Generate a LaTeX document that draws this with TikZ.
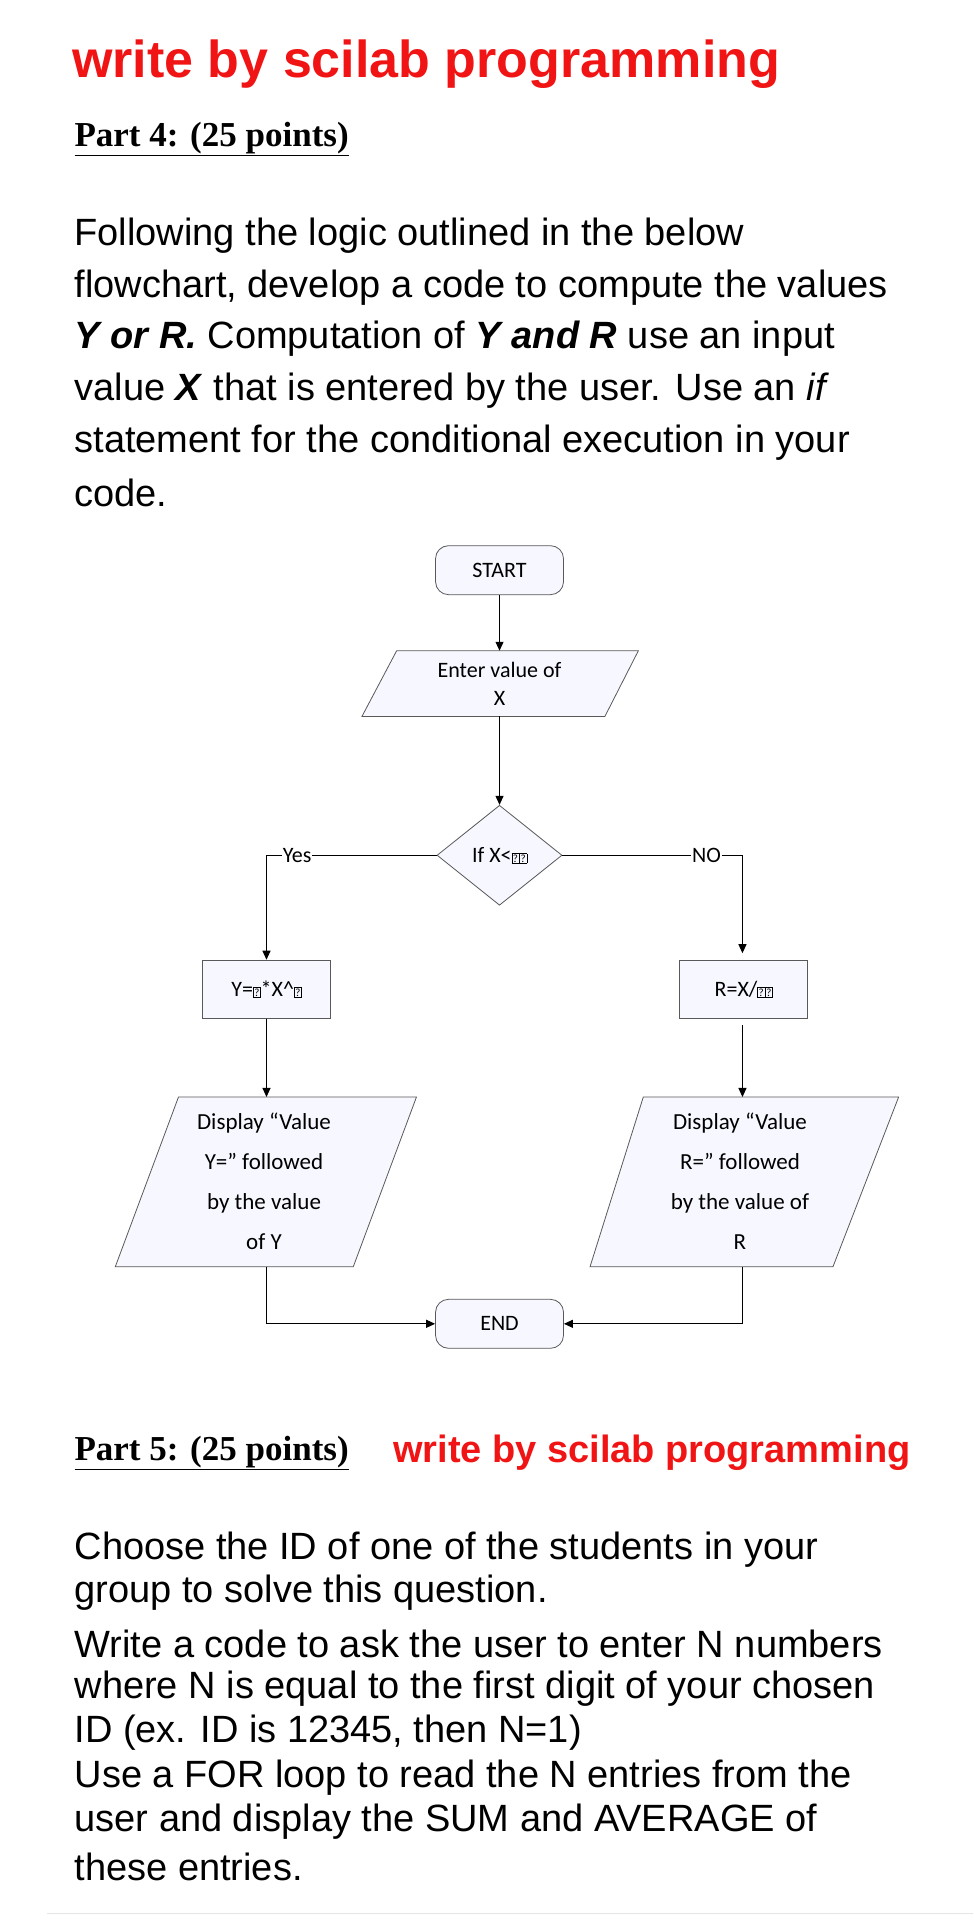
\documentclass[tikz,border=0pt]{standalone}
\usepackage{fontspec}
\setmainfont{Liberation Sans}
\newfontfamily\serifb{Liberation Serif}
\newfontfamily\calfont{Carlito}
\usetikzlibrary{shapes.geometric,arrows.meta}
\newcommand\qbx{{\setlength{\fboxsep}{0.8pt}\setlength{\fboxrule}{0.5pt}\fbox{\fontsize{11}{11}\selectfont ?}}}
\definecolor{tred}{RGB}{240,20,20}
\begin{document}
\begin{tikzpicture}[x=1.2395pt,y=-1.2395pt,
  txt/.style={anchor=west,inner sep=0pt,font=\fontsize{38}{38}\selectfont},
  shp/.style={draw=black!65,fill=blue!3,line width=0.8pt},
  fl/.style={font=\calfont\fontsize{22}{28}\selectfont,align=center},
  fl2/.style={font=\calfont\fontsize{23}{40}\selectfont,align=center},
  con/.style={draw=black,line width=1pt},
  arr/.style={con,-{Triangle[length=9pt,width=8pt]}}]
\useasboundingbox (0,0) rectangle (785,1549);
\node[txt,font=\bfseries\fontsize{52}{52}\selectfont,text=tred] (title) at (58,52) {write by scilab programming};
\node[txt,font=\serifb\bfseries\fontsize{35}{35}\selectfont] (p4) at (60,112) {\underline{Part 4: (25 points)}};
\node[txt] (l1) at (60,190) {Following the logic outlined in the below};
\node[txt] (l2) at (60,232) {flowchart, develop a code to compute the values};
\node[txt] (l3) at (60,273) {\textbf{\textit{Y or R.}} Computation of \textbf{\textit{Y and R}} use an input};
\node[txt] (l4) at (60,315) {value \textbf{\textit{X}} that is entered by the user. Use an \textit{if}};
\node[txt] (l5) at (60,357) {statement for the conditional execution in your};
\node[txt] (l6) at (60,398) {code.};
% flowchart
\node[shp,fl,rounded corners=13pt,minimum width=128pt,minimum height=49pt] (start) at (403,460) {START};
\draw[shp] (320,525) -- (515,525) -- (488,578) -- (292,578) -- cycle;
\node[fl] (enter) at (403,552) {Enter value of\\X};
\coordinate (enterT) at (403,525);
\coordinate (enterB) at (403,578);
\node[shp,fl,diamond,aspect=1.25,minimum width=125pt,minimum height=100pt,inner sep=0pt] (dia) at (403,690) {If X<\qbx\qbx};
\node[shp,fl,minimum width=128pt,minimum height=58pt] (by) at (215,798) {Y=\qbx*X\^{}\qbx};
\node[shp,fl,minimum width=128pt,minimum height=58pt] (br) at (600,798) {R=X/\qbx\qbx};
\draw[shp] (144,885) -- (336,885) -- (285,1022) -- (93,1022) -- cycle;
\node[fl2] (dy) at (213,953) {Display “Value\\Y=” followed\\by the value\\of Y};
\draw[shp] (519,885) -- (725,885) -- (672,1022) -- (476,1022) -- cycle;
\node[fl2] (dr) at (597,953) {Display “Value\\R=” followed\\by the value of\\R};
\node[shp,fl,rounded corners=13pt,minimum width=128pt,minimum height=49pt] (end) at (403,1068) {END};
\draw[arr] (start) -- (enterT);
\draw[arr] (enterB) -- (dia.north);
\draw[con] (dia.west) -- node[fill=white,inner sep=1pt,fl,pos=0.82]{Yes} (215,690);
\draw[arr] (215,690) -- (by.north);
\draw[con] (dia.east) -- node[fill=white,inner sep=1pt,fl,pos=0.8]{NO} (599,690);
\draw[arr] (599,690) -- (599,769);
\draw[arr] (by.south) -- (215,885);
\draw[arr] (599,827) -- (599,885);
\draw[arr] (215,1022) |- (end.west);
\draw[arr] (599,1022) |- (end.east);
% part 5
\node[txt,font=\serifb\bfseries\fontsize{35}{35}\selectfont] (p5) at (60,1172) {\underline{Part 5: (25 points)}};
\node[txt,font=\bfseries\fontsize{38}{38}\selectfont,text=tred] (p5r) at (317,1172) {write by scilab programming};
\node[txt] (m1) at (60,1250) {Choose the ID of one of the students in your};
\node[txt] (m2) at (60,1285) {group to solve this question.};
\node[txt] (m3) at (60,1326) {Write a code to ask the user to enter N numbers};
\node[txt] (m4) at (60,1362) {where N is equal to the first digit of your chosen};
\node[txt] (m5) at (60,1398) {ID (ex. ID is 12345, then N=1)};
\node[txt] (m6) at (60,1434) {Use a FOR loop to read the N entries from the};
\node[txt] (m7) at (60,1470) {user and display the SUM and AVERAGE of};
\node[txt] (m8) at (60,1506) {these entries.};
\draw[black!10,line width=1pt] (38,1544) -- (785,1544);
\end{tikzpicture}
\end{document}
